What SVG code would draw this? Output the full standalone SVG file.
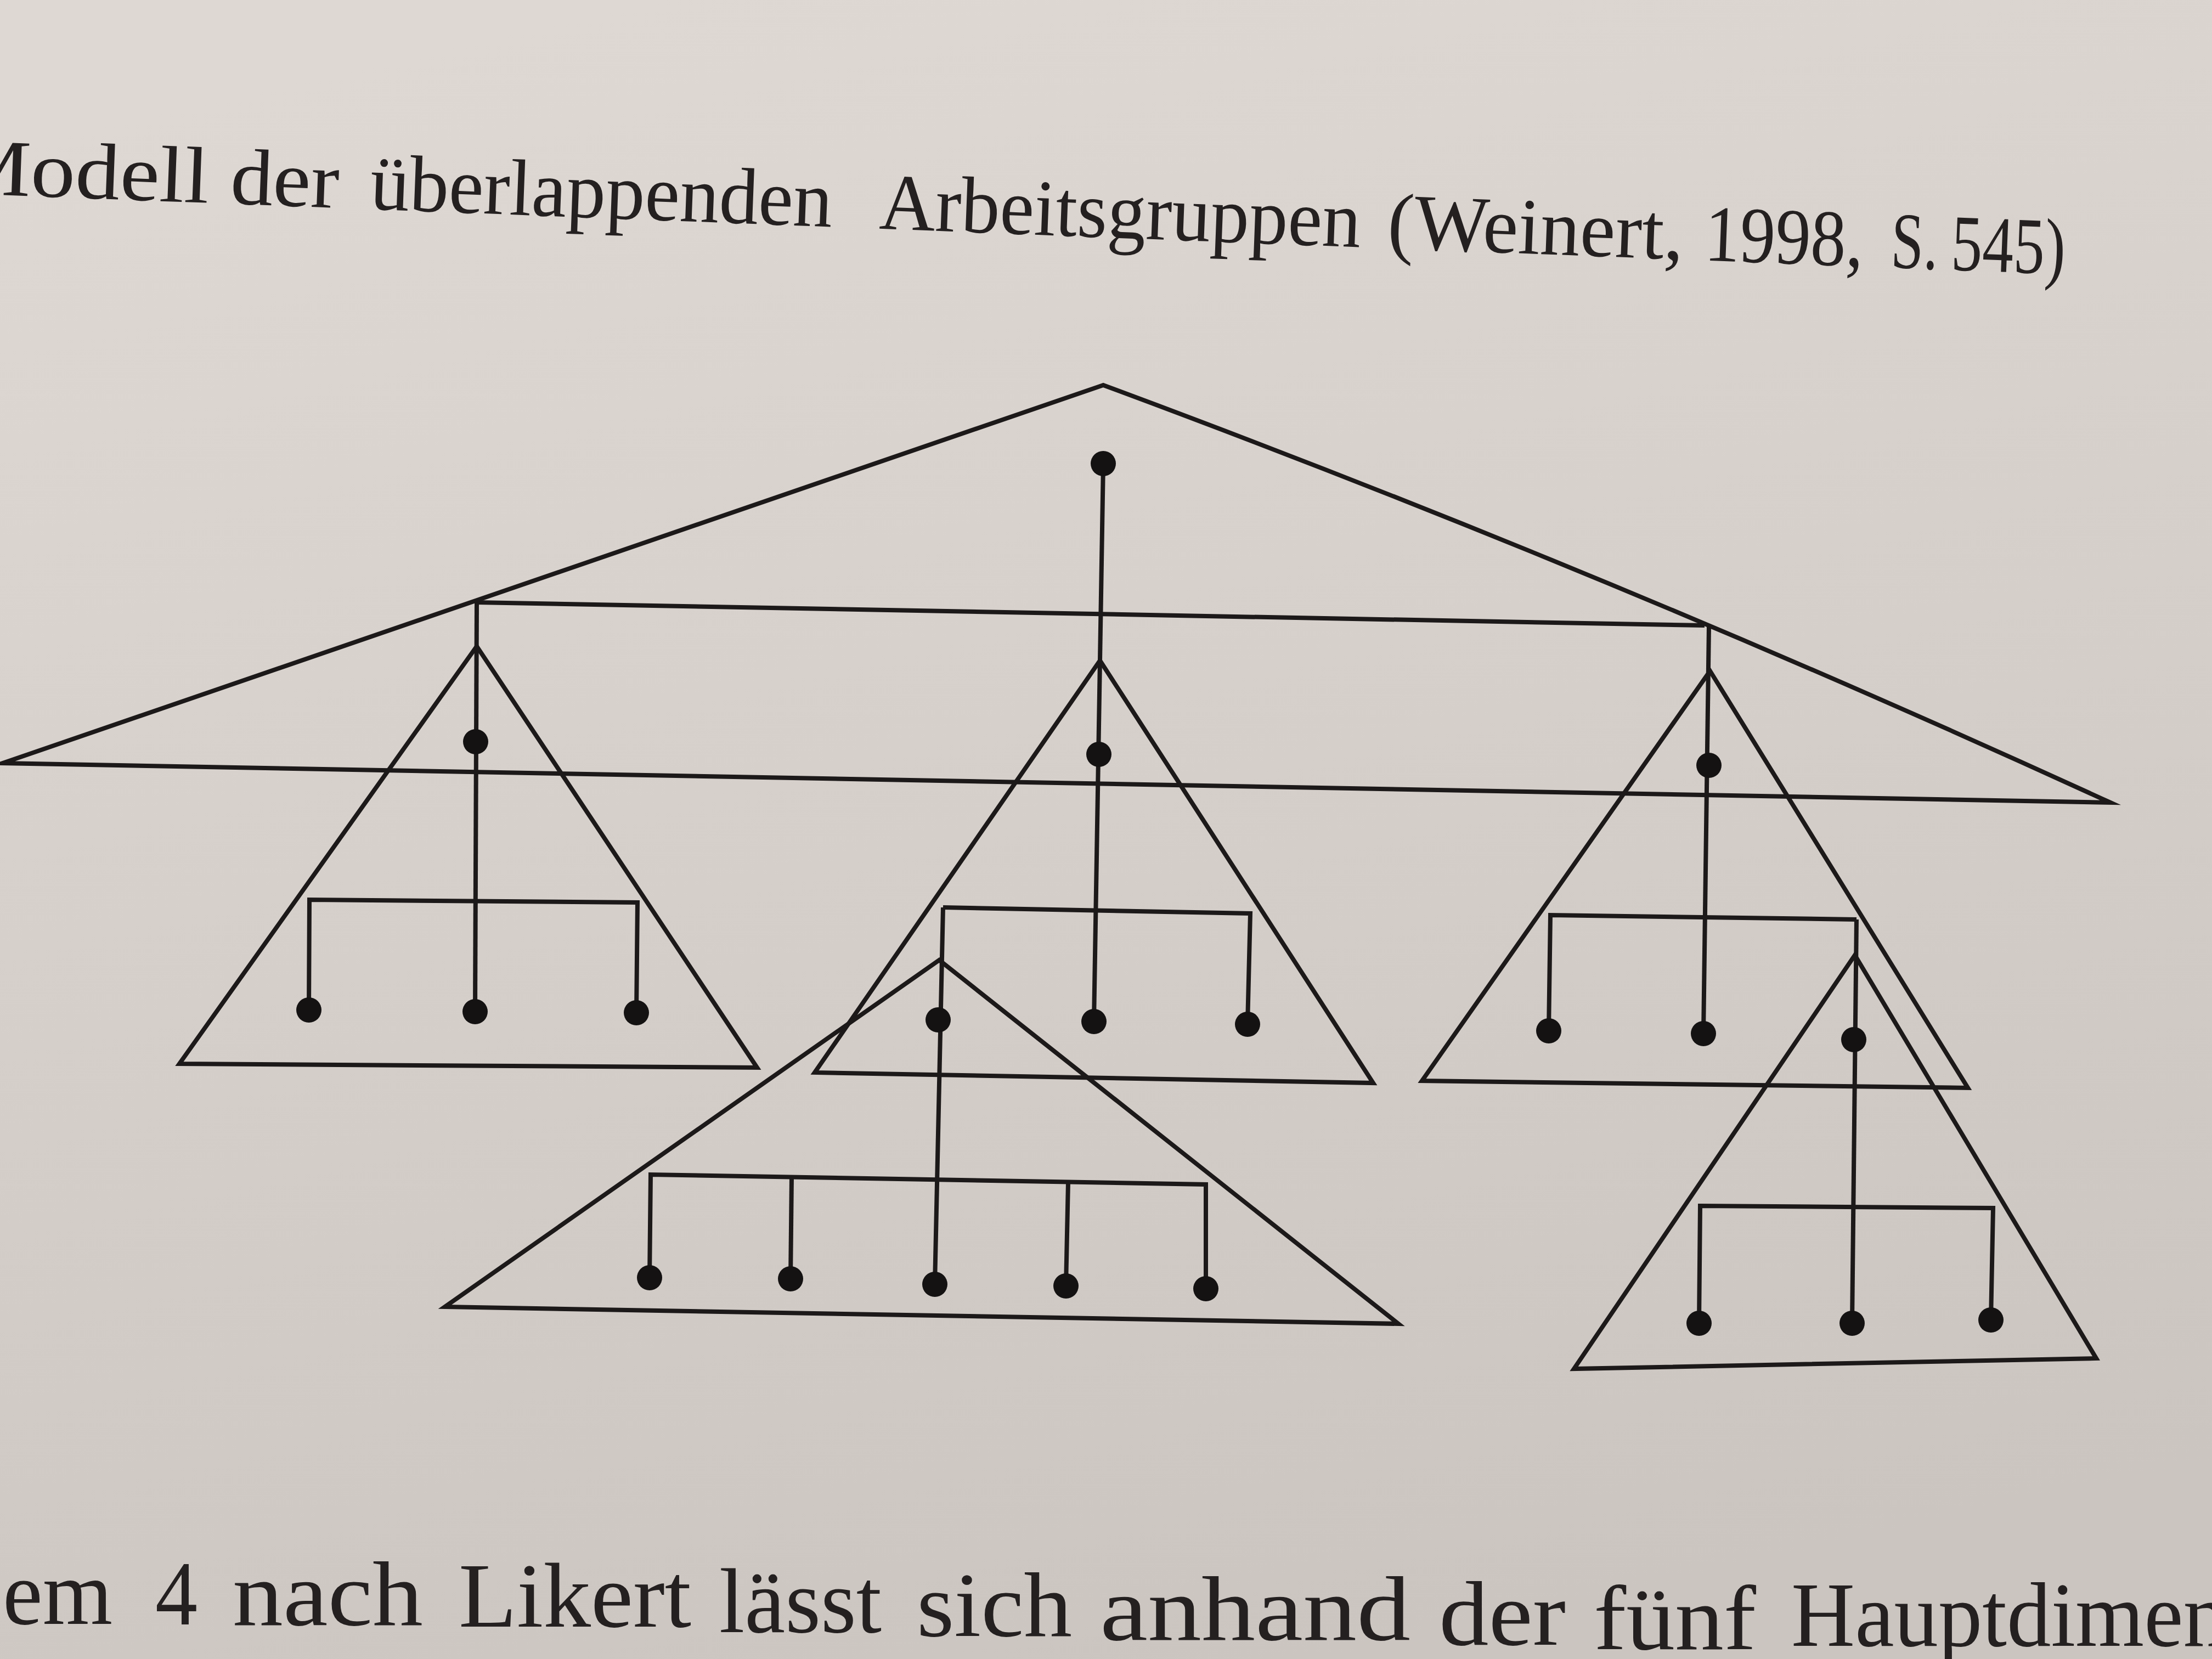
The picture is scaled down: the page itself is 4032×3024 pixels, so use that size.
<svg xmlns="http://www.w3.org/2000/svg" width="4032" height="3024" viewBox="0 0 4032 3024">
<defs>
<linearGradient id="paper" x1="0.3" y1="0" x2="0.6" y2="1">
<stop offset="0" stop-color="#ded8d3"/>
<stop offset="0.5" stop-color="#d5cfca"/>
<stop offset="1" stop-color="#cbc5c0"/>
</linearGradient>
<style>
.tri{fill:none;stroke:#1c1919;stroke-width:8;stroke-linejoin:miter;stroke-miterlimit:12}
.ln{fill:none;stroke:#1c1919;stroke-width:8;stroke-linejoin:miter}
.dot{fill:#141212}
.cap{font-family:"Liberation Serif","DejaVu Serif",serif;fill:#242020}
</style>
</defs>
<rect x="0" y="0" width="4032" height="3024" fill="url(#paper)"/>

<g id="caption-top">
<text class="cap" font-size="146" transform="rotate(2.2 -85 352)" y="352"><tspan x="-90" textLength="470" lengthAdjust="spacingAndGlyphs">Modell</tspan> <tspan x="419" textLength="198" lengthAdjust="spacingAndGlyphs">der</tspan> <tspan x="674" textLength="843" lengthAdjust="spacingAndGlyphs">überlappenden</tspan> <tspan x="1603" textLength="878" lengthAdjust="spacingAndGlyphs">Arbeitsgruppen</tspan> <tspan x="2530" textLength="540" lengthAdjust="spacingAndGlyphs">(Weinert,</tspan> <tspan x="3108" textLength="290" lengthAdjust="spacingAndGlyphs">1998,</tspan> <tspan x="3448" textLength="86" lengthAdjust="spacingAndGlyphs">S.</tspan> <tspan x="3558" textLength="208" lengthAdjust="spacingAndGlyphs">545)</tspan></text>
</g>

<g id="connectors">
<path class="ln" d="M869 1098 L3107 1140"/>
<path class="ln" d="M869 1098 L866 1844"/>
<path class="ln" d="M2011 845 L1994 1862"/>
<path class="ln" d="M3115 1141 L3105 1884"/>
<path class="ln" d="M563 1841 L564 1640 L1162 1645 L1160 1846"/>
<path class="ln" d="M1719 1654 L2279 1665 L2274 1867"/>
<path class="ln" d="M1719 1654 L1704 2341"/>
<path class="ln" d="M1184 2329 L1186 2141 L2198 2159 L2198 2349"/>
<path class="ln" d="M1443 2145 L1441 2331"/>
<path class="ln" d="M1947 2155 L1943 2344"/>
<path class="ln" d="M2823 1879 L2826 1668 L3384 1676"/>
<path class="ln" d="M3384 1676 L3376 2412"/>
<path class="ln" d="M3097 2412 L3099 2198 L3633 2202 L3629 2406"/>
</g>

<g id="group-top">
<path class="tri" d="M2011 702 L5 1391 L3847 1463 Q2929 1042 2011 702 Z"/>
<circle class="dot" cx="2011" cy="845" r="23"/>
</g>

<g id="group-left">
<path class="tri" d="M869 1178 L327 1939 L1380 1946 Z"/>
<circle class="dot" cx="867" cy="1352" r="23"/>
<circle class="dot" cx="563" cy="1841" r="23"/>
<circle class="dot" cx="866" cy="1844" r="23"/>
<circle class="dot" cx="1160" cy="1846" r="23"/>
</g>

<g id="group-middle">
<path class="tri" d="M2005 1204 L1485 1955 L2503 1974 Z"/>
<circle class="dot" cx="2003" cy="1375" r="23"/>
<circle class="dot" cx="1710" cy="1859" r="23"/>
<circle class="dot" cx="1994" cy="1862" r="23"/>
<circle class="dot" cx="2274" cy="1867" r="23"/>
</g>

<g id="group-lower-middle">
<path class="tri" d="M1712 1750 L811 2382 L2549 2413 Z"/>
<circle class="dot" cx="1184" cy="2329" r="23"/>
<circle class="dot" cx="1441" cy="2331" r="23"/>
<circle class="dot" cx="1704" cy="2341" r="23"/>
<circle class="dot" cx="1943" cy="2344" r="23"/>
<circle class="dot" cx="2198" cy="2349" r="23"/>
</g>

<g id="group-right">
<path class="tri" d="M3117 1223 L2592 1970 L3587 1983 Z"/>
<circle class="dot" cx="3115" cy="1395" r="23"/>
<circle class="dot" cx="2823" cy="1879" r="23"/>
<circle class="dot" cx="3105" cy="1884" r="23"/>
<circle class="dot" cx="3379" cy="1895" r="23"/>
</g>

<g id="group-lower-right">
<path class="tri" d="M3381 1741 L2869 2495 L3821 2476 Z"/>
<circle class="dot" cx="3097" cy="2412" r="23"/>
<circle class="dot" cx="3376" cy="2412" r="23"/>
<circle class="dot" cx="3629" cy="2406" r="23"/>
</g>

<g id="caption-bottom">
<text class="cap" font-size="168"><tspan x="5" y="2960" textLength="200" lengthAdjust="spacingAndGlyphs">em</tspan> <tspan x="283" y="2961" textLength="77" lengthAdjust="spacingAndGlyphs">4</tspan> <tspan x="424" y="2962" textLength="347" lengthAdjust="spacingAndGlyphs">nach</tspan> <tspan x="836" y="2965" textLength="424" lengthAdjust="spacingAndGlyphs">Likert</tspan> <tspan x="1311" y="2975" textLength="296" lengthAdjust="spacingAndGlyphs">lässt</tspan> <tspan x="1671" y="2982" textLength="283" lengthAdjust="spacingAndGlyphs">sich</tspan> <tspan x="2005" y="2989" textLength="566" lengthAdjust="spacingAndGlyphs">anhand</tspan> <tspan x="2623" y="2998" textLength="231" lengthAdjust="spacingAndGlyphs">der</tspan> <tspan x="2905" y="3006" textLength="296" lengthAdjust="spacingAndGlyphs">fünf</tspan> <tspan x="3265" y="3000" textLength="795" lengthAdjust="spacingAndGlyphs">Hauptdimen</tspan></text>
</g>
</svg>
